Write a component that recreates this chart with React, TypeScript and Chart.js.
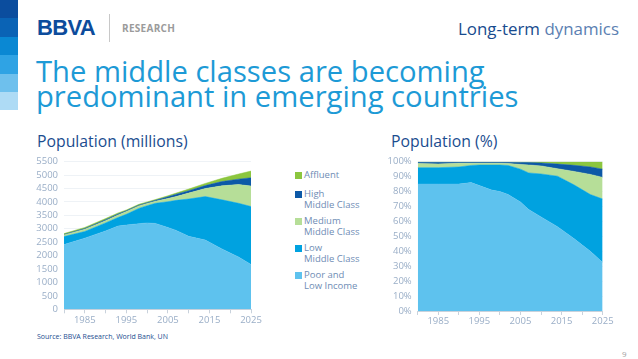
import React, { useEffect, useRef } from 'react';
import { Chart, registerables } from 'chart.js';
Chart.register(...registerables);

// ---------- data ----------
const YEARS = [1980, 1985, 1990, 1993, 1995, 1998, 2000, 2002, 2005, 2007, 2010, 2014, 2018, 2022, 2025];
const SERIES = ['Poor and Low Income', 'Low Middle Class', 'Medium Middle Class', 'High Middle Class', 'Affluent'];

// Population (millions), per class
const POOR_M = [2410, 2650, 2920, 3100, 3140, 3190, 3220, 3200, 3050, 2940, 2720, 2580, 2250, 1950, 1670];
const LOW_M = [300, 250, 300, 320, 400, 570, 640, 750, 960, 1120, 1390, 1620, 1830, 2000, 2160];
const MEDIUM_M = [60, 80, 80, 90, 100, 90, 80, 80, 120, 140, 220, 300, 520, 700, 760];
const HIGH_M = [20, 30, 40, 40, 30, 30, 30, 30, 60, 90, 90, 110, 160, 200, 310];
const AFFLUENT_M = [30, 40, 40, 40, 30, 30, 30, 30, 40, 40, 60, 80, 120, 190, 250];

// Population (%), per class
const POOR_P = [85, 85, 85, 86, 84, 81, 80, 78, 73, 68, 63, 56.5, 48.5, 40, 32.5];
const LOW_P = [11, 11, 11.5, 11.5, 13.8, 16.8, 17.8, 19.5, 22, 24.5, 28.8, 33.8, 36, 38, 42.5];
const MEDIUM_P = [2.8, 2.5, 2.4, 1.4, 1.1, 1.1, 1.1, 1.3, 3.2, 5.3, 5.4, 5, 9, 13.5, 14.5];
const HIGH_P = [0.8, 1.1, 0.7, 0.7, 0.7, 0.7, 0.7, 0.8, 1.3, 1.6, 2, 3.1, 4.1, 5, 5.5];
const AFFLUENT_P = [0.4, 0.4, 0.4, 0.4, 0.4, 0.4, 0.4, 0.4, 0.5, 0.6, 0.8, 1.6, 2.4, 3.5, 5];

const X_TICKS = [1980, 1985, 1990, 1995, 2000, 2005, 2010, 2015, 2020, 2025];
const X_LABELS = [1985, 1995, 2005, 2015, 2025];
const Y_TICKS_M = [0, 500, 1000, 1500, 2000, 2500, 3000, 3500, 4000, 4500, 5000, 5500];
const Y_TICKS_P = [0, 10, 20, 30, 40, 50, 60, 70, 80, 90, 100];

const COLORS = ['#5ec2ee', '#00a2e0', '#b6de98', '#0d59a7', '#8cc63f'];
const LEGEND = [
  { color: COLORS[4], lines: ['Affluent'] },
  { color: COLORS[3], lines: ['High', 'Middle Class'] },
  { color: COLORS[2], lines: ['Medium', 'Middle Class'] },
  { color: COLORS[1], lines: ['Low', 'Middle Class'] },
  { color: COLORS[0], lines: ['Poor and', 'Low Income'] },
];

const TICK_COLOR = '#9aaec7';
const AXIS_COLOR = '#c9d2dc';
const FONT = '"Open Sans", "Noto Sans", sans-serif';

type Box = { left: number; top: number; right: number; xH: number; yW: number };

function buildConfig(layers: number[][], yTicks: number[], yMax: number, suffix: string, box: Box): any {
  return {
    type: 'line',
    data: {
      datasets: layers.map((vals, i) => ({
        label: SERIES[i],
        data: vals.map((v, j) => ({ x: YEARS[j], y: v })),
        backgroundColor: COLORS[i],
        borderColor: COLORS[i],
        borderWidth: 0.5,
        pointRadius: 0,
        fill: i === 0 ? 'origin' : '-1',
        tension: 0,
      })),
    },
    options: {
      animation: false,
      responsive: false,
      maintainAspectRatio: false,
      layout: { padding: { top: box.top, right: box.right, left: 0, bottom: 0 } },
      plugins: { legend: { display: false }, tooltip: { enabled: false } },
      scales: {
        x: {
          type: 'linear',
          min: 1980,
          max: 2025,
          afterBuildTicks: (s: any) => {
            s.ticks = X_TICKS.map((v) => ({ value: v }));
          },
          afterFit: (s: any) => {
            s.height = box.xH;
          },
          ticks: {
            autoSkip: false,
            maxRotation: 0,
            color: TICK_COLOR,
            font: { family: FONT, size: 9.5 },
            padding: 1,
            callback: (v: any) => (X_LABELS.includes(Number(v)) ? String(v) : ''),
          },
          grid: { drawOnChartArea: false, drawTicks: true, tickLength: 4, color: AXIS_COLOR },
          border: { color: AXIS_COLOR, width: 1 },
        },
        y: {
          stacked: true,
          min: 0,
          max: yMax,
          afterBuildTicks: (s: any) => {
            s.ticks = yTicks.map((v) => ({ value: v }));
          },
          afterFit: (s: any) => {
            s.width = box.yW;
          },
          ticks: {
            autoSkip: false,
            color: TICK_COLOR,
            font: { family: FONT, size: 9.5 },
            padding: 6,
            callback: (v: any) => String(v) + suffix,
          },
          grid: { color: '#eef2f6', drawTicks: false },
          border: { display: false },
        },
      },
    },
  };
}

function AreaChart(props: { layers: number[][]; yTicks: number[]; yMax: number; suffix: string; box: Box; style: any }) {
  const ref = useRef<HTMLCanvasElement | null>(null);
  useEffect(() => {
    if (!ref.current) return;
    const chart = new Chart(ref.current, buildConfig(props.layers, props.yTicks, props.yMax, props.suffix, props.box));
    return () => chart.destroy();
  }, []);
  return (
    <div style={{ position: 'absolute', ...props.style }}>
      <canvas ref={ref} width={props.style.width} height={props.style.height} style={{ display: 'block' }} />
    </div>
  );
}

const SQUARES = ['#0b4d9e', '#0a63b5', '#0a88d3', '#2fa3e4', '#6ec0ed', '#aedbf5'];

export default function App() {
  const abs = (s: any) => ({ position: 'absolute' as const, whiteSpace: 'nowrap' as const, margin: 0, ...s });
  return (
    <div style={{ position: 'fixed', left: 0, top: 0, width: 638, height: 359, background: '#ffffff', overflow: 'hidden', fontFamily: FONT }}>
      {SQUARES.map((c, i) => (
        <div key={i} style={abs({ left: 0, top: i * 18.4, width: 18, height: 18.4, background: c })} />
      ))}
      <div style={abs({ left: 37, top: 17.4, fontFamily: '"Liberation Sans", Arial, sans-serif', fontWeight: 700, fontSize: 22, lineHeight: '22px', color: '#0d4c9c', letterSpacing: -0.7 })}>BBVA</div>
      <div style={abs({ left: 109, top: 14, width: 1, height: 28, background: '#c8c8c8' })} />
      <div style={abs({ left: 122, top: 23.1, fontWeight: 700, fontSize: 10, lineHeight: '10px', color: '#9b9b9b', letterSpacing: 0.3 })}>RESEARCH</div>
      <div style={abs({ left: 458, top: 21, fontSize: 16.9, lineHeight: '16.9px' })}>
        <span style={{ color: '#174b8e' }}>Long-term</span>
        <span style={{ color: '#5b80b2' }}> dynamics</span>
      </div>
      <div style={abs({ left: 36, top: 59, fontSize: 29.2, lineHeight: '25px', color: '#1d9ad6' })}>
        The middle classes are becoming
        <br />
        predominant in emerging countries
      </div>
      <div style={abs({ left: 37, top: 134, fontSize: 15.8, lineHeight: '15.8px', color: '#1b4d8f' })}>Population (millions)</div>
      <div style={abs({ left: 391, top: 134, fontSize: 15.8, lineHeight: '15.8px', color: '#1b4d8f' })}>Population (%)</div>

      <AreaChart
        layers={[POOR_M, LOW_M, MEDIUM_M, HIGH_M, AFFLUENT_M]}
        yTicks={Y_TICKS_M}
        yMax={5500}
        suffix=""
        box={{ left: 0, top: 8.6, right: 14, xH: 20.7, yW: 44 }}
        style={{ left: 20, top: 150, width: 245, height: 180 }}
      />
      <AreaChart
        layers={[POOR_P, LOW_P, MEDIUM_P, HIGH_P, AFFLUENT_P]}
        yTicks={Y_TICKS_P}
        yMax={100}
        suffix="%"
        box={{ left: 0, top: 11.7, right: 17.3, xH: 19, yW: 47.7 }}
        style={{ left: 370, top: 150, width: 250, height: 180 }}
      />

      {LEGEND.map((item, i) => {
        const tops = [170, 189, 216, 243, 270];
        return (
          <div key={i} style={abs({ left: 295, top: tops[i] })}>
            <div style={abs({ left: 0, top: 2, width: 7, height: 7, background: item.color })} />
            <div style={abs({ left: 9, top: 0, fontSize: 9.5, lineHeight: '10.5px', color: '#6f8db5' })}>
              {item.lines.map((l, j) => (
                <div key={j}>{l}</div>
              ))}
            </div>
          </div>
        );
      })}

      <div style={abs({ left: 37, top: 333, fontSize: 7, lineHeight: '8px', color: '#1b4d8f' })}>Source: BBVA Research, World Bank, UN</div>
      <div style={abs({ left: 622, top: 350, fontSize: 8, lineHeight: '8px', color: '#a0a0a0' })}>9</div>
    </div>
  );
}
